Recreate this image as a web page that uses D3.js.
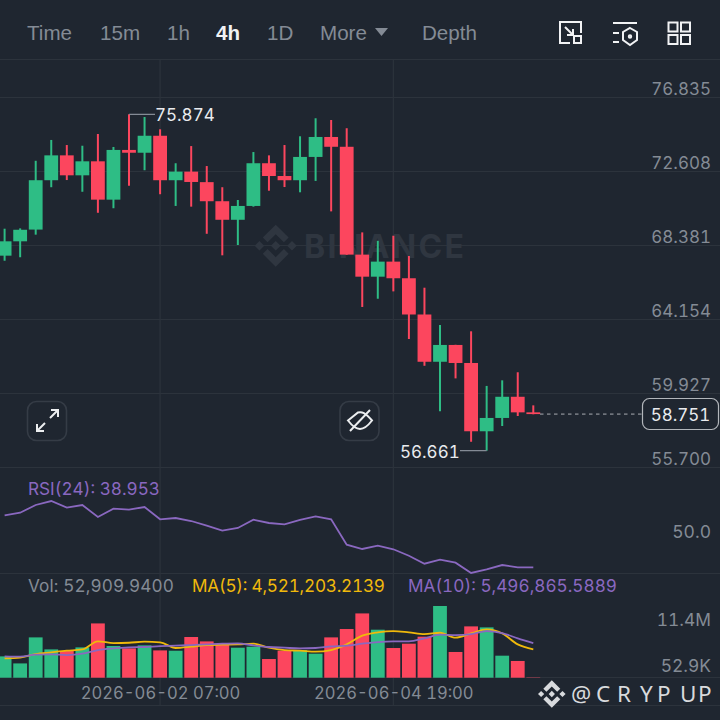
<!DOCTYPE html>
<html>
<head>
<meta charset="utf-8">
<script src="https://cdn.jsdelivr.net/npm/d3@7/dist/d3.min.js"></script>
<style>
  html, body { margin: 0; padding: 0; background: #1f2630; }
  svg { display: block; }
  text { font-family: "Inter", "Noto Sans", sans-serif; font-variant-numeric: tabular-nums; }
</style>
</head>
<body>
<svg id="chart" width="720" height="720"></svg>
<script>
// candle data (4h candles)
const opens  = [67.80,68.62,69.29,72.11,73.53,72.39,73.19,71.00,73.84,73.68,74.65,72.11,72.60,72.00,70.91,69.85,70.64,73.08,72.35,72.11,73.44,74.58,74.02,67.86,66.60,67.46,66.51,64.44,61.74,62.70,61.67,57.77,58.53,59.74,58.85];
const highs  = [69.34,69.36,73.22,74.41,74.12,74.08,74.75,74.01,75.874,75.72,75.02,73.08,74.06,72.92,71.71,70.98,73.72,73.53,74.12,74.62,75.65,75.55,75.08,69.13,68.65,68.94,67.78,65.97,63.84,62.71,63.48,60.36,60.68,61.14,59.25];
const lows   = [67.51,67.71,69.00,71.71,72.12,71.45,70.25,70.51,71.80,72.68,71.31,70.64,70.60,69.05,67.82,68.41,70.60,71.51,71.72,71.42,72.07,70.33,67.85,64.87,65.34,65.76,63.04,61.51,58.91,60.79,57.17,56.661,58.07,58.64,58.74];
const closes = [68.62,69.28,72.11,73.53,72.39,73.19,71.00,73.84,73.68,74.65,72.11,72.60,72.01,70.91,69.85,70.64,73.08,72.35,72.11,73.44,74.58,74.02,67.86,66.60,67.46,66.51,64.44,61.74,62.70,61.67,57.77,58.53,59.74,58.85,58.751];

const rsiValues = [55.23,56.04,58.45,59.70,57.61,58.45,54.69,57.29,56.98,57.82,53.97,54.38,53.44,51.97,50.41,51.25,53.85,52.82,52.41,53.76,54.91,53.97,46.03,44.68,45.71,44.59,42.58,40.08,41.33,40.39,37.17,38.33,39.67,38.95,38.953];

// volume in millions
const volumes = [3.39,2.27,6.41,4.50,4.24,4.82,8.63,5.04,4.66,5.14,4.34,4.29,6.47,5.77,5.20,4.77,4.93,2.97,4.29,4.40,3.82,6.41,7.74,10.22,7.63,4.72,5.41,6.52,11.40,4.09,8.16,8.00,3.50,2.66,0.0529];
const ma5  = [3.07,3.18,3.76,4.03,4.29,4.50,5.78,5.51,5.56,5.72,5.62,4.72,4.93,5.19,5.25,5.30,5.41,4.77,4.40,4.29,4.13,4.40,5.30,6.68,7.21,7.42,7.21,6.94,7.15,6.36,7.05,7.68,7.05,5.30,4.521];
const ma10 = [3.39,3.34,3.66,3.71,3.60,3.82,4.40,4.66,4.82,4.88,5.03,5.09,5.19,5.30,5.41,5.46,5.14,4.88,4.77,4.66,4.72,4.98,5.09,5.41,5.67,5.78,5.78,6.25,6.84,6.78,6.94,7.42,7.10,6.25,5.497];

const priceTicks = [76.835,72.608,68.381,64.154,59.927,55.700];
const timeTicks = [10,25];
const timeLabels = ["2026-06-02 07:00","2026-06-04 19:00"];
const menuItems = ["Time","15m","1h","4h","1D","More","Depth"];

const bg = "#1f2630", grid = "#2c333c", up = "#2ebd85", down = "#fc465e";
const grey = "#848b95", purple = "#8a68c0", yellow = "#f0b90b", white = "#e9ebee";
const logoPath = "M38.73 53.2l24.59-24.58 24.6 24.6 14.3-14.31L63.32 0 24.42 38.9zM0 63.31l14.3-14.31 14.31 14.31-14.31 14.3zM38.73 73.41l24.59 24.59 24.6-24.6 14.31 14.29-38.9 38.91-38.91-38.88-.02-.02zM98 63.31l14.3-14.31 14.31 14.3-14.31 14.32zM77.83 63.3L63.32 48.78 52.59 59.51l-1.24 1.23-2.54 2.54 14.51 14.5 14.51-14.47z";

const svg = d3.select("#chart");
svg.append("rect").attr("width",720).attr("height",720).attr("fill",bg);

const x = d3.scaleLinear().domain([0,34]).range([4.6,533.3]);
const yPrice = d3.scaleLinear().domain([55.7,76.835]).range([467.5,97.5]);
const yRsi = d3.scaleLinear().domain([38.953,50]).range([567.3,532]);
const yVol = d3.scaleLinear().domain([0,11.4]).range([677.7,606]);

// grid
const gridG = svg.append("g").attr("stroke",grid).attr("stroke-width",1.2);
[59.5,573.5,677.5,705.5].forEach(function(y){
  gridG.append("line").attr("x1",0).attr("x2",720).attr("y1",y).attr("y2",y);
});
priceTicks.forEach(function(p){
  gridG.append("line").attr("x1",0).attr("x2",720).attr("y1",yPrice(p)).attr("y2",yPrice(p));
});
timeTicks.forEach(function(t){
  gridG.append("line").attr("x1",x(t)).attr("x2",x(t)).attr("y1",60).attr("y2",705);
});

// watermark
svg.append("path").attr("d",logoPath).attr("fill","#2f3640")
  .attr("transform","translate(254.7,224.7) scale(0.332)");
svg.append("text").text("BINANCE").attr("x",304).attr("y",257.7)
  .attr("fill","#2f3640").attr("font-size",32).attr("font-weight",700)
  .attr("textLength",160).attr("lengthAdjust","spacing");

// candles
const idx = d3.range(opens.length);
const candleColor = function(i){ return closes[i] >= opens[i] ? up : down; };
svg.append("g").selectAll("line").data(idx).join("line")
  .attr("x1",i=>x(i)).attr("x2",i=>x(i))
  .attr("y1",i=>yPrice(highs[i])).attr("y2",i=>yPrice(lows[i]))
  .attr("stroke",candleColor).attr("stroke-width",2);
svg.append("g").selectAll("rect").data(idx).join("rect")
  .attr("x",i=>x(i)-6.9).attr("width",13.8)
  .attr("y",i=>yPrice(Math.max(opens[i],closes[i])))
  .attr("height",i=>Math.max(1.6,Math.abs(yPrice(opens[i])-yPrice(closes[i]))))
  .attr("fill",candleColor);

// price axis
const priceAxis = d3.axisLeft(yPrice).tickValues(priceTicks).tickSize(0).tickPadding(0)
  .tickFormat(d3.format(".3f"));
const priceG = svg.append("g").attr("transform","translate(711,0)").call(priceAxis);
priceG.select(".domain").remove();
priceG.selectAll("text").attr("font-size",17).attr("fill",grey).attr("dy",-3.5)
  .style("font-family","Inter");

// high / low labels
svg.append("path").attr("fill","none").attr("stroke",grey).attr("stroke-width",1.2)
  .attr("d","M"+x(8)+","+yPrice(75.874)+"H155 M"+x(31)+","+yPrice(56.661)+"H460");
svg.append("text").text("75.874").attr("x",155).attr("y",121).attr("fill",white).attr("font-size",17);
svg.append("text").text("56.661").attr("x",400).attr("y",458).attr("fill",white).attr("font-size",17);

// last price
svg.append("line").attr("x1",540).attr("x2",642).attr("y1",yPrice(58.751)).attr("y2",yPrice(58.751))
  .attr("stroke","#a9adb3").attr("stroke-width",1).attr("stroke-dasharray","3.5 3.5");
svg.append("rect").attr("x",642.5).attr("y",398.5).attr("width",76).attr("height",31).attr("rx",7)
  .attr("fill",bg).attr("stroke","#b2b6bb").attr("stroke-width",1.2);
svg.append("text").text("58.751").attr("x",680.5).attr("y",421).attr("text-anchor","middle")
  .attr("fill",white).attr("font-size",17);

// RSI panel
svg.append("path").attr("fill","none").attr("stroke",purple).attr("stroke-width",1.8)
  .attr("d",d3.line().x((d,i)=>x(i)).y(d=>yRsi(d))(rsiValues));
svg.append("text").text("RSI(24): 38.953").attr("x",28).attr("y",495).attr("fill",purple).attr("font-size",17.2)
  .attr("textLength",132);
svg.append("text").text("50.0").attr("x",711).attr("y",538).attr("text-anchor","end").attr("fill",grey).attr("font-size",17.5);

// volume panel
svg.append("g").selectAll("rect").data(idx).join("rect")
  .attr("x",i=>x(i)-6.9).attr("width",13.8)
  .attr("y",i=>yVol(volumes[i]))
  .attr("height",i=>yVol(0)-yVol(volumes[i]))
  .attr("fill",candleColor);
const maLine = d3.line().x((d,i)=>x(i)).y(d=>yVol(d)).curve(d3.curveMonotoneX);
svg.append("path").attr("fill","none").attr("stroke",yellow).attr("stroke-width",1.8).attr("d",maLine(ma5));
svg.append("path").attr("fill","none").attr("stroke",purple).attr("stroke-width",1.8).attr("d",maLine(ma10));

svg.append("text").text("Vol: 52,909.9400").attr("x",28).attr("y",592).attr("fill",grey).attr("font-size",17.2).attr("textLength",146);
svg.append("text").text("MA(5): 4,521,203.2139").attr("x",192).attr("y",592).attr("fill",yellow).attr("font-size",17.2).attr("textLength",193);
svg.append("text").text("MA(10): 5,496,865.5889").attr("x",408).attr("y",592).attr("fill",purple).attr("font-size",17.2).attr("textLength",209);
svg.append("text").text("11.4M").attr("x",711).attr("y",626).attr("text-anchor","end").attr("fill",grey).attr("font-size",17.4);
svg.append("text").text("52.9K").attr("x",711).attr("y",672).attr("text-anchor","end").attr("fill",grey).attr("font-size",17.4);

// time axis
const timeAxis = d3.axisBottom(x).tickValues(timeTicks).tickSize(0).tickPadding(0)
  .tickFormat(function(d,i){ return timeLabels[i]; });
const timeG = svg.append("g").attr("transform","translate(0,687)").call(timeAxis);
timeG.select(".domain").remove();
timeG.selectAll("text").attr("font-size",16.6).attr("fill",grey).style("font-family","Inter");

// header menu
const menuX = [27,100,167,216,267,320,422];
svg.append("g").selectAll("text").data(menuItems).join("text")
  .text(d=>d)
  .attr("x",(d,i)=>menuX[i]).attr("y",40)
  .attr("font-size",20.6)
  .attr("font-weight",d=>d=="4h"?700:400)
  .attr("fill",d=>d=="4h"?"#f1f2f4":grey)
  .style("font-family","'Liberation Sans'");
svg.append("path").attr("d","M375,28H388L381.5,36Z").attr("fill",grey);

// header icons
const iconG = svg.append("g").attr("fill","none").attr("stroke","#f1f2f4").attr("stroke-width",2);
iconG.append("path").attr("d","M581,33V22H560V43H570 M565,27L573,35 M573,29V35H567");
iconG.append("rect").attr("x",574).attr("y",36).attr("width",7).attr("height",7);
iconG.append("path").attr("d","M613,23H637 M613,33H619 M613,42H619");
iconG.append("path").attr("d","M630,28L637,32V40L630,45L623,40V32Z");
iconG.append("circle").attr("cx",630).attr("cy",36.5).attr("r",1.2);
[[668,22],[680.5,22],[668,34.5],[680.5,34.5]].forEach(function(p){
  iconG.append("rect").attr("x",p[0]+.5).attr("y",p[1]+.5).attr("width",9).attr("height",9);
});

// floating buttons
[27.5,340].forEach(function(bx){
  svg.append("rect").attr("x",bx).attr("y",401.5).attr("width",39).attr("height",39).attr("rx",9)
    .attr("fill",bg).attr("stroke","#353c46").attr("stroke-width",1.6);
});
const btn = svg.append("g").attr("fill","none").attr("stroke","#eceef0").attr("stroke-width",2);
btn.append("path").attr("d","M50,418L58,410 M51,410H58V417 M45,423L37,431 M37,424V431H44");
btn.append("path").attr("d","M348,420.5L358,412.5C362,411.5 365,412.5 372,420.5C367,427 364,429 360,429C356,429 353,427 348,420.5Z");
btn.append("path").attr("d","M350,431L370,410");

// footer tag
svg.append("path").attr("d",logoPath).attr("fill","#d8dadd")
  .attr("transform","translate(538,680.2) scale(0.218)");
svg.append("text").text("@CRYPUP").attr("x","571 596 617 640 657 680 698").attr("y",702).attr("fill","#d8dadd")
  .attr("font-size",22.5).style("font-family","'Noto Sans'");
</script>
</body>
</html>
